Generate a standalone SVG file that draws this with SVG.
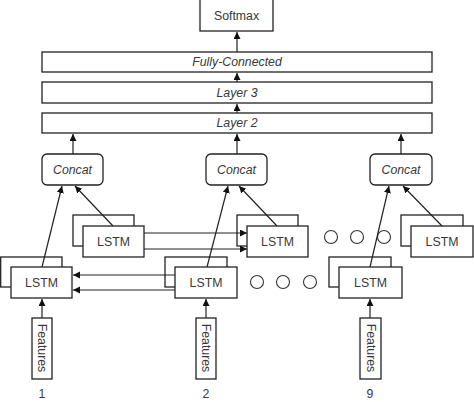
<svg xmlns="http://www.w3.org/2000/svg" width="474" height="402" viewBox="0 0 474 402">
<style>
.box{fill:#fff;stroke:#222;stroke-width:1.3}
.t{font-family:"Liberation Sans",Arial,sans-serif;font-size:12.3px;fill:#383838;text-anchor:middle;dominant-baseline:central}
.i{font-style:italic}
.c{fill:none;stroke:#222;stroke-width:1.2}
.dot{fill:#fff;stroke:#333;stroke-width:1.1}
</style>
<defs>
<marker id="a" markerUnits="userSpaceOnUse" markerWidth="8" markerHeight="8" refX="7" refY="3.5" orient="auto">
<path d="M0,0 L7,3.5 L0,7 z" fill="#111"/>
</marker>
</defs>
<rect width="474" height="402" fill="#fff"/>

<g id="softmax"><rect class="box" x="200" y="-2" width="73" height="33"/><text class="t" x="236.5" y="16">Softmax</text></g>
<g id="fc"><rect class="box" x="42" y="52" width="390" height="20"/><text class="t i" x="237" y="62">Fully-Connected</text></g>
<g id="layer3"><rect class="box" x="42" y="82" width="390" height="21"/><text class="t i" x="237" y="92.5">Layer 3</text></g>
<g id="layer2"><rect class="box" x="42" y="113" width="390" height="20"/><text class="t i" x="237" y="123">Layer 2</text></g>

<g id="concat1"><rect class="box" x="42" y="154" width="61" height="31" rx="5"/><text class="t i" x="72.5" y="169.5">Concat</text></g>
<g id="concat2"><rect class="box" x="206" y="154" width="61" height="31" rx="5"/><text class="t i" x="236.5" y="169.5">Concat</text></g>
<g id="concat3"><rect class="box" x="370" y="154" width="62" height="31" rx="5"/><text class="t i" x="401" y="169.5">Concat</text></g>

<g id="lstm-up1"><rect class="box" x="73" y="215" width="61" height="31"/><rect class="box" x="83" y="226" width="61" height="31"/><text class="t" x="113.5" y="242">LSTM</text></g>
<g id="lstm-up2"><rect class="box" x="237" y="215" width="61" height="31"/><rect class="box" x="247" y="226" width="61" height="31"/><text class="t" x="277.5" y="242">LSTM</text></g>
<g id="lstm-up3"><rect class="box" x="401" y="215" width="62" height="31"/><rect class="box" x="411" y="226" width="62" height="31"/><text class="t" x="442" y="242">LSTM</text></g>

<g id="lstm-lo1"><rect class="box" x="0.7" y="257" width="61.3" height="30"/><rect class="box" x="11" y="267" width="61" height="31"/><text class="t" x="41.5" y="283">LSTM</text></g>
<g id="lstm-lo2"><rect class="box" x="165" y="257" width="62" height="30"/><rect class="box" x="175" y="267" width="62" height="31"/><text class="t" x="206" y="283">LSTM</text></g>
<g id="lstm-lo3"><rect class="box" x="329" y="257" width="62" height="30"/><rect class="box" x="339" y="267" width="63" height="31"/><text class="t" x="370.5" y="283">LSTM</text></g>

<g id="dots-up"><circle class="dot" cx="331" cy="237" r="6.5"/><circle class="dot" cx="357" cy="237" r="6.5"/><circle class="dot" cx="384" cy="237" r="6.5"/></g>
<g id="dots-lo"><circle class="dot" cx="257" cy="282" r="6.5"/><circle class="dot" cx="283" cy="282" r="6.5"/><circle class="dot" cx="310" cy="282" r="6.5"/></g>

<g id="feat1"><rect class="box" x="32" y="318" width="20" height="61"/><text class="t" transform="translate(42,348) rotate(90)" x="0" y="0">Features</text></g>
<g id="feat2"><rect class="box" x="196" y="318" width="20" height="61"/><text class="t" transform="translate(206,348) rotate(90)" x="0" y="0">Features</text></g>
<g id="feat3"><rect class="box" x="360" y="318" width="21" height="61"/><text class="t" transform="translate(370.5,348) rotate(90)" x="0" y="0">Features</text></g>

<g id="labels"><text class="t" x="42" y="394">1</text><text class="t" x="206" y="394">2</text><text class="t" x="370" y="394">9</text></g>

<g id="connectors">
<line class="c" x1="237" y1="52" x2="237" y2="32" marker-end="url(#a)"/>
<line class="c" x1="237" y1="82" x2="237" y2="73" marker-end="url(#a)"/>
<line class="c" x1="237" y1="113" x2="237" y2="104" marker-end="url(#a)"/>
<line class="c" x1="73" y1="154" x2="73" y2="134" marker-end="url(#a)"/>
<line class="c" x1="237" y1="154" x2="237" y2="134" marker-end="url(#a)"/>
<line class="c" x1="401" y1="154" x2="401" y2="134" marker-end="url(#a)"/>
<line class="c" x1="42" y1="267" x2="62" y2="186" marker-end="url(#a)"/>
<line class="c" x1="113" y1="226" x2="75" y2="186" marker-end="url(#a)"/>
<line class="c" x1="207" y1="267" x2="228" y2="186" marker-end="url(#a)"/>
<line class="c" x1="277" y1="226" x2="239" y2="186" marker-end="url(#a)"/>
<line class="c" x1="370" y1="267" x2="389" y2="186" marker-end="url(#a)"/>
<line class="c" x1="442" y1="226" x2="403" y2="186" marker-end="url(#a)"/>
<line class="c" x1="144" y1="233" x2="247" y2="233" marker-end="url(#a)"/>
<line class="c" x1="144" y1="249" x2="247" y2="249" marker-end="url(#a)"/>
<line class="c" x1="175" y1="275" x2="73" y2="275" marker-end="url(#a)"/>
<line class="c" x1="175" y1="290" x2="73" y2="290" marker-end="url(#a)"/>
<line class="c" x1="42" y1="318" x2="42" y2="299" marker-end="url(#a)"/>
<line class="c" x1="206" y1="318" x2="206" y2="299" marker-end="url(#a)"/>
<line class="c" x1="370" y1="318" x2="370" y2="299" marker-end="url(#a)"/>
</g>
</svg>
